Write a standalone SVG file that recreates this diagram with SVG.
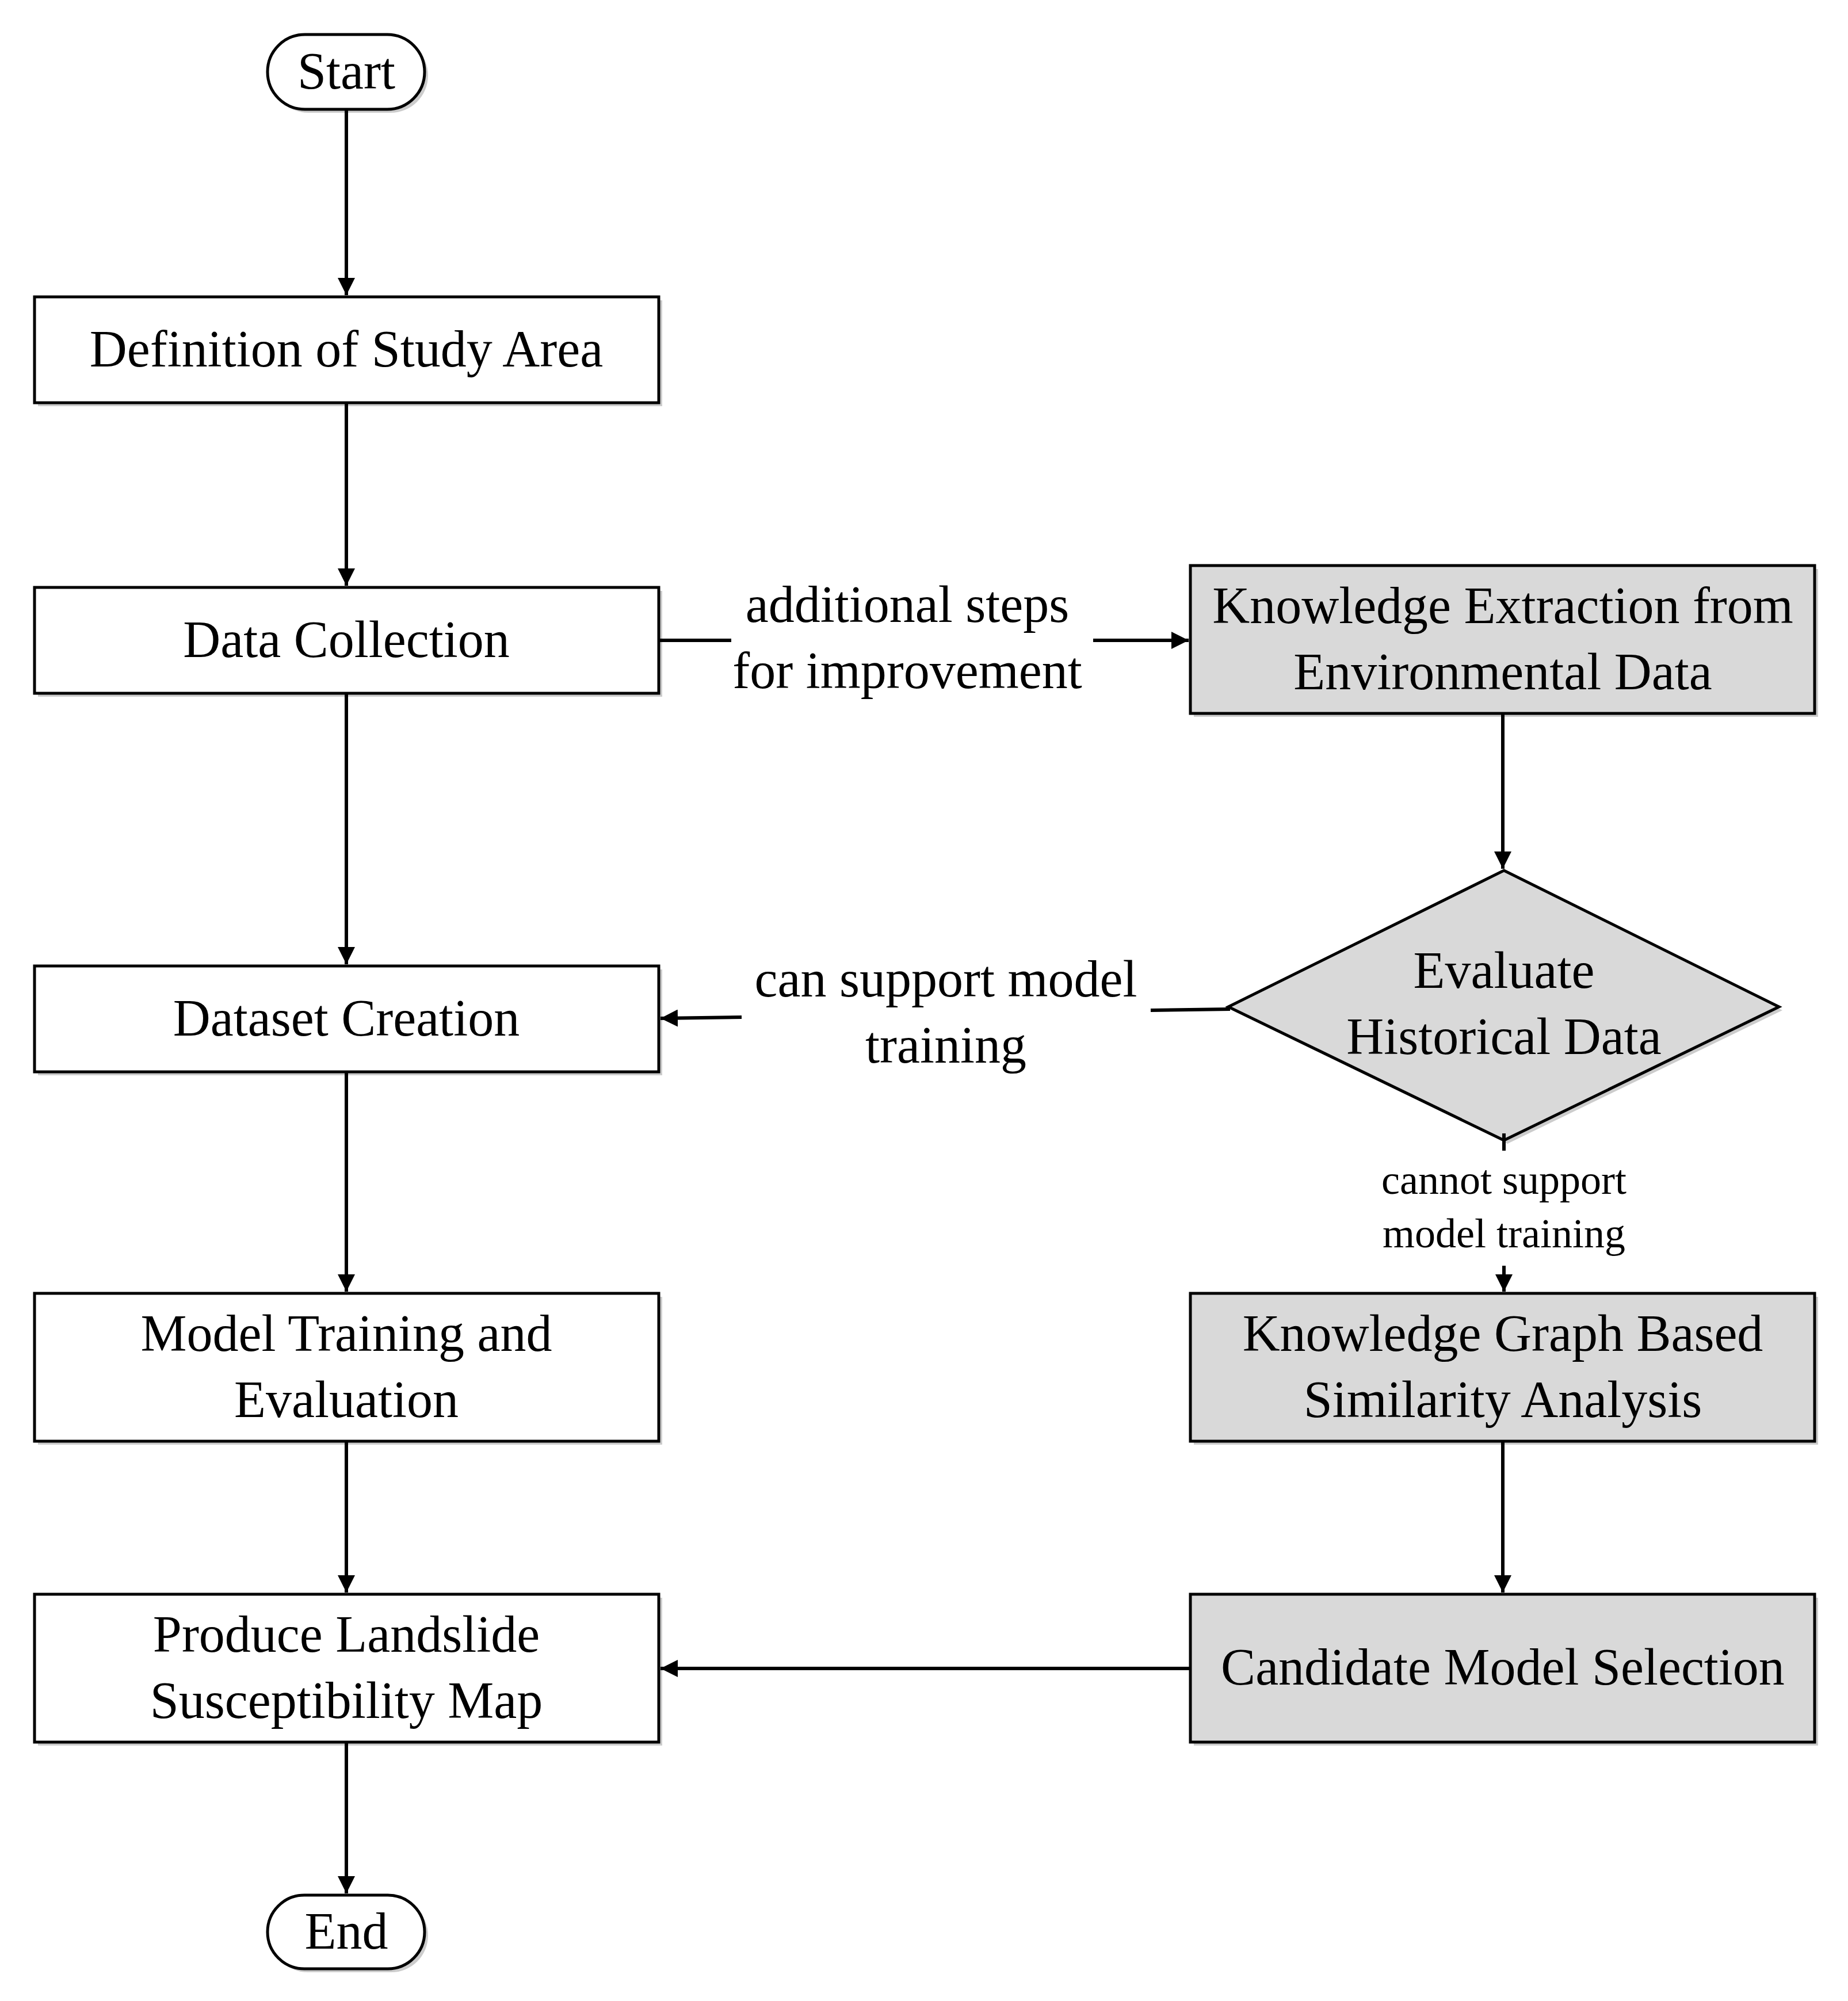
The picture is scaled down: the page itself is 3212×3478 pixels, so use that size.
<svg xmlns="http://www.w3.org/2000/svg" width="3212" height="3478" viewBox="0 0 3212 3478">
<style>
.b{fill:#fff;stroke:#000;stroke-width:5}
.g{fill:#d9d9d9;stroke:#000;stroke-width:5}
.s{fill:#aaa;stroke:none;opacity:.6}
.t{font-family:"Liberation Serif",serif;font-size:90px;text-anchor:middle;fill:#000}
.l{font-family:"Liberation Serif",serif;font-size:72px;text-anchor:middle;fill:#000}
.c{fill:none;stroke:#000;stroke-width:6}
</style>
<defs><marker id="a" viewBox="0 0 10 10" refX="10" refY="5" markerWidth="5" markerHeight="5" orient="auto" markerUnits="strokeWidth"><path d="M0,0L10,5L0,10z" fill="#000"/></marker></defs>
<rect width="3212" height="3478" fill="#fff"/>
<g id="start"><rect x="471" y="66" width="273" height="130" rx="65" class="s"/><rect x="465" y="60" width="273" height="130" rx="65" class="b"/><text x="602" y="154" class="t">Start</text></g>
<g id="n1"><rect x="66" y="522" width="1085" height="184" class="s"/><rect x="60" y="516" width="1085" height="184" class="b"/><text x="602" y="637" class="t">Definition of Study Area</text></g>
<g id="n2"><rect x="66" y="1027" width="1085" height="184" class="s"/><rect x="60" y="1021" width="1085" height="184" class="b"/><text x="602" y="1142" class="t">Data Collection</text></g>
<g id="n3"><rect x="66" y="1685" width="1085" height="184" class="s"/><rect x="60" y="1679" width="1085" height="184" class="b"/><text x="602" y="1800" class="t">Dataset Creation</text></g>
<g id="n4"><rect x="66" y="2254" width="1085" height="257" class="s"/><rect x="60" y="2248" width="1085" height="257" class="b"/><text x="602" y="2348" class="t">Model Training and</text><text x="602" y="2463" class="t">Evaluation</text></g>
<g id="n5"><rect x="66" y="2777" width="1085" height="257" class="s"/><rect x="60" y="2771" width="1085" height="257" class="b"/><text x="602" y="2871" class="t">Produce Landslide</text><text x="602" y="2986" class="t">Susceptibility Map</text></g>
<g id="end"><rect x="471" y="3300" width="273" height="128" rx="64" class="s"/><rect x="465" y="3294" width="273" height="128" rx="64" class="b"/><text x="602" y="3387" class="t">End</text></g>
<g id="r1"><rect x="2075" y="989" width="1085" height="257" class="s"/><rect x="2069" y="983" width="1085" height="257" class="g"/><text x="2612" y="1083" class="t">Knowledge Extraction from</text><text x="2612" y="1198" class="t">Environmental Data</text></g>
<g id="d"><path d="M2620,1519L3098,1756L2620,1988L2141,1756z" class="s"/><path d="M2614,1513L3092,1750L2614,1982L2135,1750z" class="g"/><text x="2614" y="1717" class="t">Evaluate</text><text x="2614" y="1832" class="t">Historical Data</text></g>
<g id="r2"><rect x="2075" y="2254" width="1085" height="257" class="s"/><rect x="2069" y="2248" width="1085" height="257" class="g"/><text x="2612" y="2348" class="t">Knowledge Graph Based</text><text x="2612" y="2463" class="t">Similarity Analysis</text></g>
<g id="r3"><rect x="2075" y="2777" width="1085" height="257" class="s"/><rect x="2069" y="2771" width="1085" height="257" class="g"/><text x="2612" y="2928" class="t">Candidate Model Selection</text></g>
<g id="connectors">
<path d="M602,190V513" class="c" marker-end="url(#a)"/>
<path d="M602,700V1018" class="c" marker-end="url(#a)"/>
<path d="M602,1205V1676" class="c" marker-end="url(#a)"/>
<path d="M602,1863V2245" class="c" marker-end="url(#a)"/>
<path d="M602,2505V2768" class="c" marker-end="url(#a)"/>
<path d="M602,3028V3291" class="c" marker-end="url(#a)"/>
<path d="M1145,1113H1271" class="c"/>
<path d="M1900,1113H2066" class="c" marker-end="url(#a)"/>
<text x="1577" y="1081" class="t">additional steps</text><text x="1577" y="1196" class="t">for improvement</text>
<path d="M2612,1240V1510" class="c" marker-end="url(#a)"/>
<path d="M2138,1754L2000,1756" class="c"/>
<path d="M1289,1768L1148,1770" class="c" marker-end="url(#a)"/>
<text x="1644" y="1732" class="t">can support model</text><text x="1644" y="1847" class="t">training</text>
<path d="M2614,1970V2000" class="c"/>
<text x="2614" y="2075" class="l">cannot support</text><text x="2614" y="2168" class="l">model training</text>
<path d="M2614,2200V2245" class="c" marker-end="url(#a)"/>
<path d="M2612,2505V2768" class="c" marker-end="url(#a)"/>
<path d="M2069,2900H1148" class="c" marker-end="url(#a)"/>
</g>
</svg>
